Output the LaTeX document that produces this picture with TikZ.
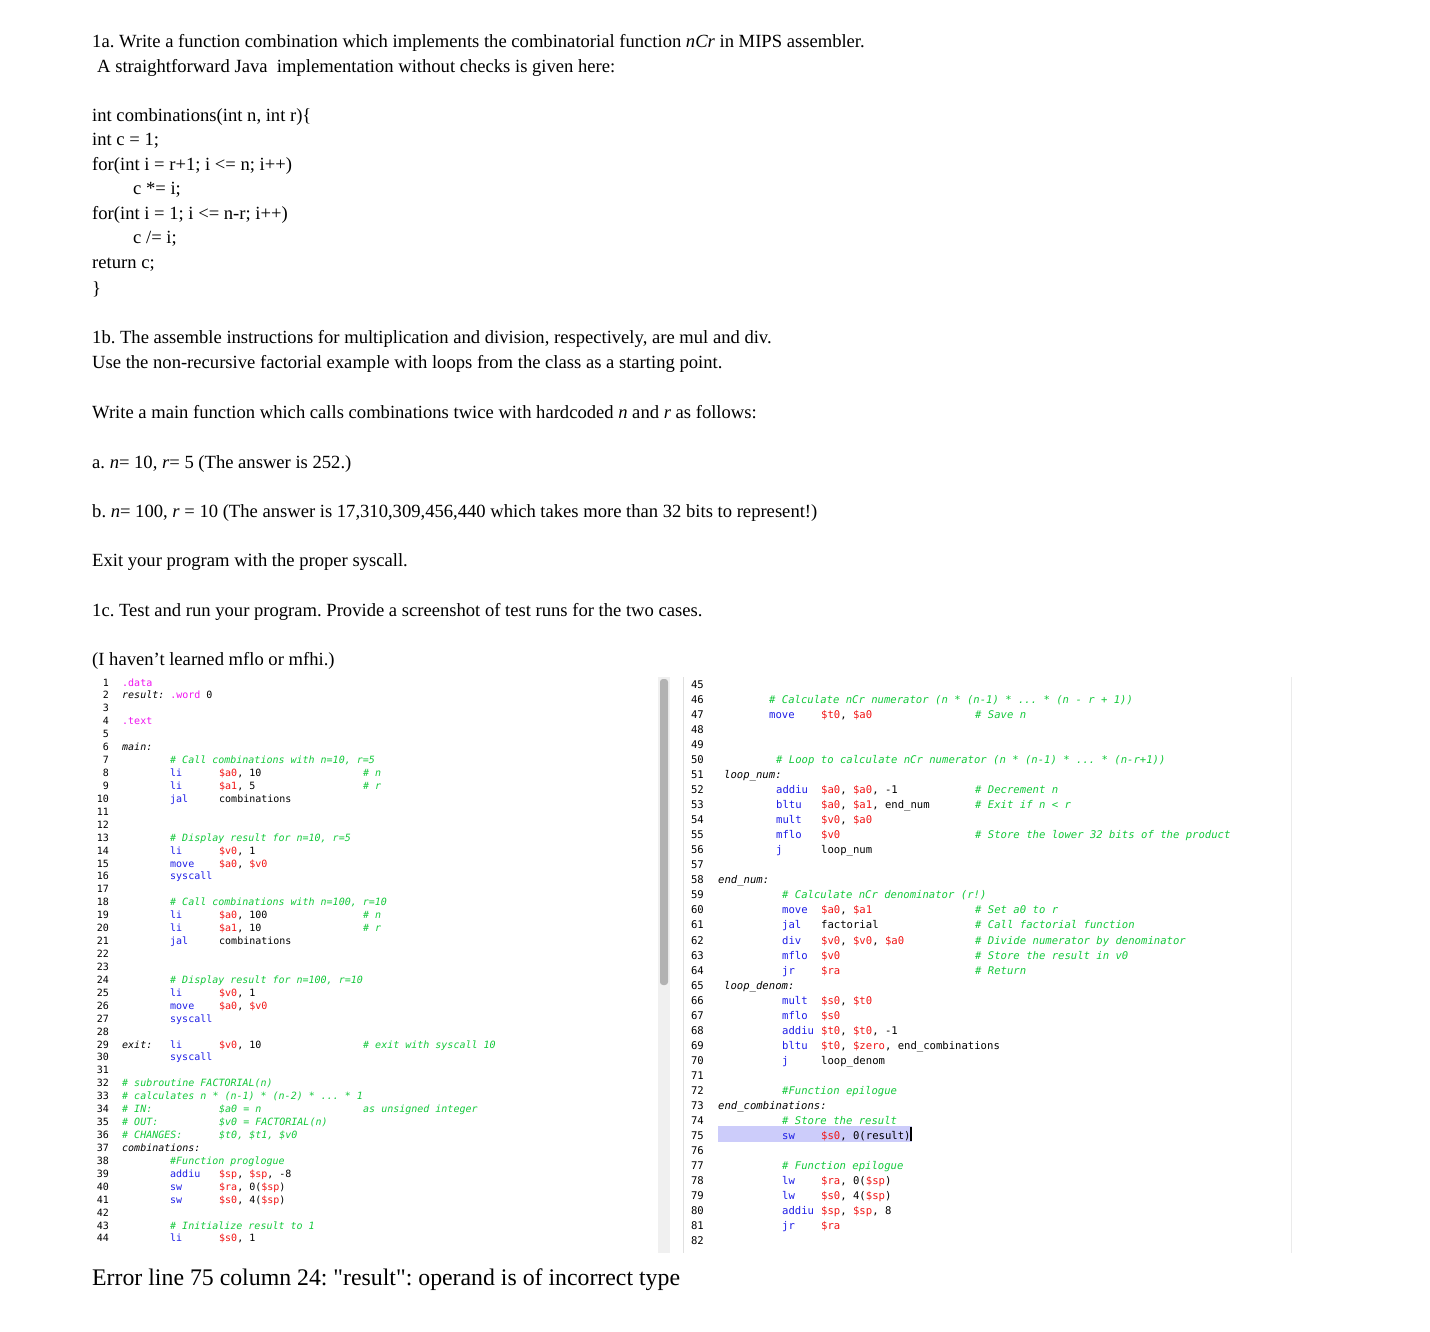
\documentclass[tikz,border=0pt]{standalone}
\usepackage{fontspec}
\setmainfont{Liberation Serif}[Ligatures=TeXOff]
\setmonofont{DejaVu Sans Mono}
\frenchspacing
\definecolor{kblue}{RGB}{30,30,230}
\definecolor{kred}{RGB}{240,20,20}
\definecolor{kgreen}{RGB}{20,200,60}
\definecolor{kmag}{RGB}{240,20,240}
\definecolor{hil}{RGB}{204,204,250}
\newcommand\tl[3]{\node[anchor=base west,inner sep=0pt] at (#1,#2) {#3};}
\newcommand\Lc[3]{\node[anchor=base west,inner sep=0pt,font=\ttfamily\fontsize{10}{12}\selectfont] at (#2,{686+(#1-1)*12.93}) {#3};}
\newcommand\Rc[3]{\node[anchor=base west,inner sep=0pt,font=\ttfamily\fontsize{10.6}{12}\selectfont] at (#2,{688.5+(#1-45)*15.03}) {#3};}
\newcommand\B[1]{\textcolor{kblue}{#1}}
\newcommand\Rr[1]{\textcolor{kred}{#1}}
\newcommand\G[1]{\textcolor{kgreen}{\itshape #1}}
\newcommand\M[1]{\textcolor{kmag}{#1}}
\newcommand\I[1]{\textit{#1}}
\begin{document}
\begin{tikzpicture}[x=1pt,y=-1pt]
\useasboundingbox (0,0) rectangle (1430,1332);
\fill[white] (0,0) rectangle (1430,1332);
\begin{scope}[font=\fontsize{18.6}{21}\selectfont]
\tl{92}{48}{1a. Write a function combination which implements the combinatorial function \textit{nCr} in MIPS assembler.}
\tl{97}{73}{A straightforward Java\ \ implementation without checks is given here:}
\tl{92}{122}{int combinations(int n, int r)\{}
\tl{92}{146}{int c = 1;}
\tl{92}{171}{for(int i = r+1; i <= n; i++)}
\tl{133}{195}{c *= i;}
\tl{92}{220}{for(int i = 1; i <= n-r; i++)}
\tl{133}{244}{c /= i;}
\tl{92}{269}{return c;}
\tl{92}{295}{\}}
\tl{92}{344}{1b. The assemble instructions for multiplication and division, respectively, are mul and div.}
\tl{92}{369}{Use the non-recursive factorial example with loops from the class as a starting point.}
\tl{92}{418}{Write a main function which calls combinations twice with hardcoded \textit{n} and \textit{r} as follows:}
\tl{92}{468}{a. \textit{n}= 10, \textit{r}= 5 (The answer is 252.)}
\tl{92}{517}{b. \textit{n}= 100, \textit{r} = 10 (The answer is 17,310,309,456,440 which takes more than 32 bits to represent!)}
\tl{92}{566}{Exit your program with the proper syscall.}
\tl{92}{616}{1c. Test and run your program. Provide a screenshot of test runs for the two cases.}
\tl{92}{665}{(I haven’t learned mflo or mfhi.)}
\end{scope}
\node[anchor=base west,inner sep=0pt,font=\fontsize{23.8}{27}\selectfont] at (92,1285) {Error line 75 column 24: "result": operand is of incorrect type};
% scrollbar and panel borders
\fill[black!6] (658,677) rectangle (670,1253);
\fill[black!30,rounded corners=3pt] (660,679) rectangle (668,985);
\draw[black!12] (683,677) -- (683,1253);
\draw[black!8] (1291,677) -- (1291,1253);
% highlight
\fill[hil] (718,1126) rectangle (912,1142);
\draw[black,line width=1.2pt] (911,1127) -- (911,1141);
% line numbers
\foreach \k in {1,...,44}{
  \node[anchor=base east,inner sep=0pt,font=\ttfamily\fontsize{10}{12}\selectfont] at (109,{686+(\k-1)*12.93}) {\k};}
\foreach \k in {45,...,82}{
  \node[anchor=base east,inner sep=0pt,font=\ttfamily\fontsize{10.6}{12}\selectfont] at (704,{688.5+(\k-45)*15.03}) {\k};}
% left code
\Lc{1}{122}{\M{.data}}
\Lc{2}{122}{\I{result:} \M{.word} 0}
\Lc{4}{122}{\M{.text}}
\Lc{6}{122}{\I{main:}}
\Lc{7}{170}{\G{\# Call combinations with n=10, r=5}}
\Lc{8}{170}{\B{li}}\Lc{8}{219}{\Rr{\$a0}, 10}\Lc{8}{363}{\G{\# n}}
\Lc{9}{170}{\B{li}}\Lc{9}{219}{\Rr{\$a1}, 5}\Lc{9}{363}{\G{\# r}}
\Lc{10}{170}{\B{jal}}\Lc{10}{219}{combinations}
\Lc{13}{170}{\G{\# Display result for n=10, r=5}}
\Lc{14}{170}{\B{li}}\Lc{14}{219}{\Rr{\$v0}, 1}
\Lc{15}{170}{\B{move}}\Lc{15}{219}{\Rr{\$a0}, \Rr{\$v0}}
\Lc{16}{170}{\B{syscall}}
\Lc{18}{170}{\G{\# Call combinations with n=100, r=10}}
\Lc{19}{170}{\B{li}}\Lc{19}{219}{\Rr{\$a0}, 100}\Lc{19}{363}{\G{\# n}}
\Lc{20}{170}{\B{li}}\Lc{20}{219}{\Rr{\$a1}, 10}\Lc{20}{363}{\G{\# r}}
\Lc{21}{170}{\B{jal}}\Lc{21}{219}{combinations}
\Lc{24}{170}{\G{\# Display result for n=100, r=10}}
\Lc{25}{170}{\B{li}}\Lc{25}{219}{\Rr{\$v0}, 1}
\Lc{26}{170}{\B{move}}\Lc{26}{219}{\Rr{\$a0}, \Rr{\$v0}}
\Lc{27}{170}{\B{syscall}}
\Lc{29}{122}{\I{exit:}}\Lc{29}{170}{\B{li}}\Lc{29}{219}{\Rr{\$v0}, 10}\Lc{29}{363}{\G{\# exit with syscall 10}}
\Lc{30}{170}{\B{syscall}}
\Lc{32}{122}{\G{\# subroutine FACTORIAL(n)}}
\Lc{33}{122}{\G{\# calculates n * (n-1) * (n-2) * ... * 1}}
\Lc{34}{122}{\G{\# IN:}}\Lc{34}{219}{\G{\$a0 = n}}\Lc{34}{363}{\G{as unsigned integer}}
\Lc{35}{122}{\G{\# OUT:}}\Lc{35}{219}{\G{\$v0 = FACTORIAL(n)}}
\Lc{36}{122}{\G{\# CHANGES:}}\Lc{36}{219}{\G{\$t0, \$t1, \$v0}}
\Lc{37}{122}{\I{combinations:}}
\Lc{38}{170}{\G{\#Function proglogue}}
\Lc{39}{170}{\B{addiu}}\Lc{39}{219}{\Rr{\$sp}, \Rr{\$sp}, -8}
\Lc{40}{170}{\B{sw}}\Lc{40}{219}{\Rr{\$ra}, 0(\Rr{\$sp})}
\Lc{41}{170}{\B{sw}}\Lc{41}{219}{\Rr{\$s0}, 4(\Rr{\$sp})}
\Lc{43}{170}{\G{\# Initialize result to 1}}
\Lc{44}{170}{\B{li}}\Lc{44}{219}{\Rr{\$s0}, 1}
% right code
\Rc{46}{769}{\G{\# Calculate nCr numerator (n * (n-1) * ... * (n - r + 1))}}
\Rc{47}{769}{\B{move}}\Rc{47}{821}{\Rr{\$t0}, \Rr{\$a0}}\Rc{47}{975}{\G{\# Save n}}
\Rc{50}{776}{\G{\# Loop to calculate nCr numerator (n * (n-1) * ... * (n-r+1))}}
\Rc{51}{724}{\I{loop\_num:}}
\Rc{52}{776}{\B{addiu}}\Rc{52}{821}{\Rr{\$a0}, \Rr{\$a0}, -1}\Rc{52}{975}{\G{\# Decrement n}}
\Rc{53}{776}{\B{bltu}}\Rc{53}{821}{\Rr{\$a0}, \Rr{\$a1}, end\_num}\Rc{53}{975}{\G{\# Exit if n < r}}
\Rc{54}{776}{\B{mult}}\Rc{54}{821}{\Rr{\$v0}, \Rr{\$a0}}
\Rc{55}{776}{\B{mflo}}\Rc{55}{821}{\Rr{\$v0}}\Rc{55}{975}{\G{\# Store the lower 32 bits of the product}}
\Rc{56}{776}{\B{j}}\Rc{56}{821}{loop\_num}
\Rc{58}{718}{\I{end\_num:}}
\Rc{59}{782}{\G{\# Calculate nCr denominator (r!)}}
\Rc{60}{782}{\B{move}}\Rc{60}{821}{\Rr{\$a0}, \Rr{\$a1}}\Rc{60}{975}{\G{\# Set a0 to r}}
\Rc{61}{782}{\B{jal}}\Rc{61}{821}{factorial}\Rc{61}{975}{\G{\# Call factorial function}}
\Rc{62}{782}{\B{div}}\Rc{62}{821}{\Rr{\$v0}, \Rr{\$v0}, \Rr{\$a0}}\Rc{62}{975}{\G{\# Divide numerator by denominator}}
\Rc{63}{782}{\B{mflo}}\Rc{63}{821}{\Rr{\$v0}}\Rc{63}{975}{\G{\# Store the result in v0}}
\Rc{64}{782}{\B{jr}}\Rc{64}{821}{\Rr{\$ra}}\Rc{64}{975}{\G{\# Return}}
\Rc{65}{724}{\I{loop\_denom:}}
\Rc{66}{782}{\B{mult}}\Rc{66}{821}{\Rr{\$s0}, \Rr{\$t0}}
\Rc{67}{782}{\B{mflo}}\Rc{67}{821}{\Rr{\$s0}}
\Rc{68}{782}{\B{addiu}}\Rc{68}{821}{\Rr{\$t0}, \Rr{\$t0}, -1}
\Rc{69}{782}{\B{bltu}}\Rc{69}{821}{\Rr{\$t0}, \Rr{\$zero}, end\_combinations}
\Rc{70}{782}{\B{j}}\Rc{70}{821}{loop\_denom}
\Rc{72}{782}{\G{\#Function epilogue}}
\Rc{73}{718}{\I{end\_combinations:}}
\Rc{74}{782}{\G{\# Store the result}}
\Rc{75}{782}{\B{sw}}\Rc{75}{821}{\Rr{\$s0}, 0(result)}
\Rc{77}{782}{\G{\# Function epilogue}}
\Rc{78}{782}{\B{lw}}\Rc{78}{821}{\Rr{\$ra}, 0(\Rr{\$sp})}
\Rc{79}{782}{\B{lw}}\Rc{79}{821}{\Rr{\$s0}, 4(\Rr{\$sp})}
\Rc{80}{782}{\B{addiu}}\Rc{80}{821}{\Rr{\$sp}, \Rr{\$sp}, 8}
\Rc{81}{782}{\B{jr}}\Rc{81}{821}{\Rr{\$ra}}
\end{tikzpicture}
\end{document}
